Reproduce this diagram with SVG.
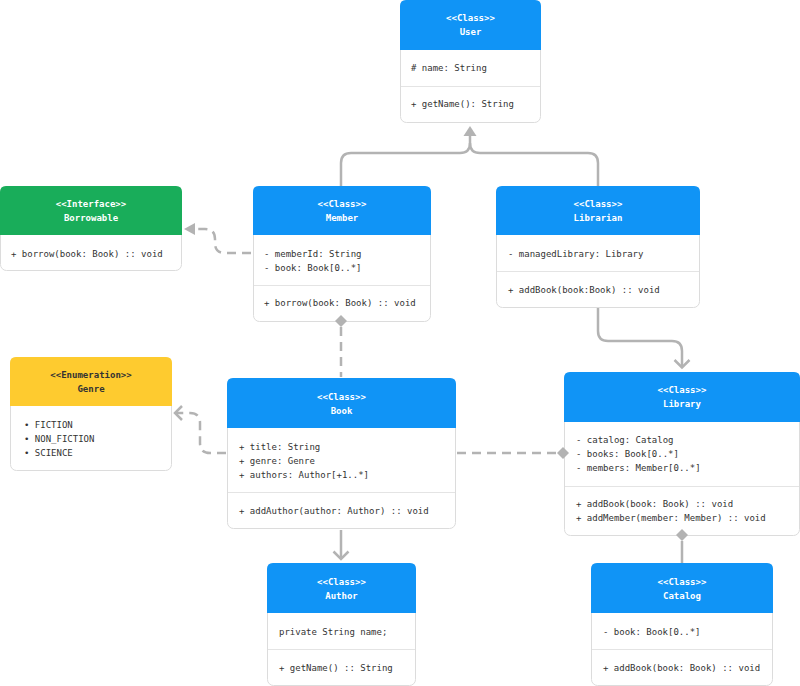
<svg xmlns="http://www.w3.org/2000/svg" width="800" height="686" viewBox="0 0 800 686">
<style>
.box{fill:#ffffff;stroke:#dcdcdc;stroke-width:1}
.div{stroke:#e4e4e4;stroke-width:1}
.blue{fill:#1094f6}
.green{fill:#19ad5a}
.yellow{fill:#fecb2f}
.hd{font-family:"DejaVu Sans Mono","Liberation Mono",monospace;font-size:9px;font-weight:bold;fill:#ffffff;text-anchor:middle}
.hdk{font-family:"DejaVu Sans Mono","Liberation Mono",monospace;font-size:9px;font-weight:bold;fill:#333333;text-anchor:middle}
.t{font-family:"DejaVu Sans Mono","Liberation Mono",monospace;font-size:9px;fill:#333333}
.ln{fill:none;stroke:#b3b3b3;stroke-width:2.5}
.dash{fill:none;stroke:#b3b3b3;stroke-width:2.5;stroke-dasharray:9 6}
.fill{fill:#b3b3b3;stroke:none}
</style>
<rect width="800" height="686" fill="#ffffff"/>
<g id="User">
  <rect class="box" x="400.5" y="0.5" width="140" height="122" rx="6"/>
  <path class="blue" d="M400,6 Q400,0 406,0 H535 Q541,0 541,6 V50 H400 Z"/>
  <text class="hd" x="470.5" y="21">&lt;&lt;Class&gt;&gt;</text>
  <text class="hd" x="470.5" y="35">User</text>
  <text class="t" x="411" y="71"># name: String</text>
  <line class="div" x1="401" y1="86.5" x2="540" y2="86.5"/>
  <text class="t" x="411" y="107">+ getName(): String</text>
</g>
<g id="Borrowable">
  <rect class="box" x="0.5" y="186.5" width="181" height="84" rx="6"/>
  <path class="green" d="M0,192 Q0,186 6,186 H176 Q182,186 182,192 V235 H0 Z"/>
  <text class="hd" x="91" y="207">&lt;&lt;Interface&gt;&gt;</text>
  <text class="hd" x="91" y="221">Borrowable</text>
  <text class="t" x="11" y="257">+ borrow(book: Book) :: void</text>
</g>
<g id="Member">
  <rect class="box" x="253.5" y="186.5" width="177" height="135" rx="6"/>
  <path class="blue" d="M253,192 Q253,186 259,186 H425 Q431,186 431,192 V235 H253 Z"/>
  <text class="hd" x="342" y="207">&lt;&lt;Class&gt;&gt;</text>
  <text class="hd" x="342" y="221">Member</text>
  <text class="t" x="264" y="257">- memberId: String</text>
  <text class="t" x="264" y="271">- book: Book[0..*]</text>
  <line class="div" x1="254" y1="285.5" x2="430" y2="285.5"/>
  <text class="t" x="264" y="306">+ borrow(book: Book) :: void</text>
</g>
<g id="Librarian">
  <rect class="box" x="496.5" y="186.5" width="203" height="121" rx="6"/>
  <path class="blue" d="M496,192 Q496,186 502,186 H694 Q700,186 700,192 V235 H496 Z"/>
  <text class="hd" x="598" y="207">&lt;&lt;Class&gt;&gt;</text>
  <text class="hd" x="598" y="221">Librarian</text>
  <text class="t" x="508" y="257">- managedLibrary: Library</text>
  <line class="div" x1="497" y1="271.5" x2="699" y2="271.5"/>
  <text class="t" x="508" y="293">+ addBook(book:Book) :: void</text>
</g>
<g id="Genre">
  <rect class="box" x="10.5" y="357.5" width="161" height="113" rx="6"/>
  <path class="yellow" d="M10,363 Q10,357 16,357 H166 Q172,357 172,363 V406 H10 Z"/>
  <text class="hdk" x="91" y="378">&lt;&lt;Enumeration&gt;&gt;</text>
  <text class="hdk" x="91" y="392">Genre</text>
  <text class="t" x="24" y="428">• FICTION</text>
  <text class="t" x="24" y="442">• NON_FICTION</text>
  <text class="t" x="24" y="456">• SCIENCE</text>
</g>
<g id="Book">
  <rect class="box" x="227.5" y="378.5" width="228" height="150" rx="6"/>
  <path class="blue" d="M227,384 Q227,378 233,378 H450 Q456,378 456,384 V428 H227 Z"/>
  <text class="hd" x="341.5" y="400">&lt;&lt;Class&gt;&gt;</text>
  <text class="hd" x="341.5" y="414">Book</text>
  <text class="t" x="239" y="450">+ title: String</text>
  <text class="t" x="239" y="464">+ genre: Genre</text>
  <text class="t" x="239" y="478">+ authors: Author[+1..*]</text>
  <line class="div" x1="228" y1="492.5" x2="455" y2="492.5"/>
  <text class="t" x="239" y="514">+ addAuthor(author: Author) :: void</text>
</g>
<g id="Library">
  <rect class="box" x="564.5" y="372.5" width="235" height="163" rx="6"/>
  <path class="blue" d="M564,378 Q564,372 570,372 H794 Q800,372 800,378 V422 H564 Z"/>
  <text class="hd" x="682" y="393">&lt;&lt;Class&gt;&gt;</text>
  <text class="hd" x="682" y="407">Library</text>
  <text class="t" x="576" y="443">- catalog: Catalog</text>
  <text class="t" x="576" y="457">- books: Book[0..*]</text>
  <text class="t" x="576" y="471">- members: Member[0..*]</text>
  <line class="div" x1="565" y1="486.5" x2="799" y2="486.5"/>
  <text class="t" x="576" y="507">+ addBook(book: Book) :: void</text>
  <text class="t" x="576" y="521">+ addMember(member: Member) :: void</text>
</g>
<g id="Author">
  <rect class="box" x="267.5" y="563.5" width="148" height="122" rx="6"/>
  <path class="blue" d="M267,569 Q267,563 273,563 H410 Q416,563 416,569 V613 H267 Z"/>
  <text class="hd" x="341.5" y="585">&lt;&lt;Class&gt;&gt;</text>
  <text class="hd" x="341.5" y="599">Author</text>
  <text class="t" x="279" y="635">private String name;</text>
  <line class="div" x1="268" y1="649.5" x2="415" y2="649.5"/>
  <text class="t" x="279" y="671">+ getName() :: String</text>
</g>
<g id="Catalog">
  <rect class="box" x="591.5" y="563.5" width="181" height="122" rx="6"/>
  <path class="blue" d="M591,569 Q591,563 597,563 H767 Q773,563 773,569 V613 H591 Z"/>
  <text class="hd" x="682" y="585">&lt;&lt;Class&gt;&gt;</text>
  <text class="hd" x="682" y="599">Catalog</text>
  <text class="t" x="603" y="635">- book: Book[0..*]</text>
  <line class="div" x1="592" y1="649.5" x2="772" y2="649.5"/>
  <text class="t" x="603" y="671">+ addBook(book: Book) :: void</text>
</g>
<g id="connectors">
  <path class="ln" d="M341,186 V163 Q341,153 351,153 H460 Q470,153 470,143 V134"/>
  <path class="ln" d="M598,186 V163 Q598,153 588,153 H480 Q470,153 470,143"/>
  <polygon class="fill" points="470,126 476.5,136 463.5,136"/>
  <path class="dash" d="M251,253 H225 Q215,253 215,243 V239 Q215,229 205,229 H193"/>
  <polygon class="fill" points="184,229 195,223 195,235"/>
  <polygon class="fill" points="341,315 347,321 341,327 335,321"/>
  <path class="dash" d="M341,327 V377"/>
  <path class="ln" d="M598,308 V331 Q598,341 608,341 H672 Q682,341 682,351 V367"/>
  <polyline class="ln" points="674.5,360 682,367.5 689.5,360"/>
  <path class="dash" d="M226,453 H210 Q200,453 200,443 V423 Q200,413 190,413 H176"/>
  <polyline class="ln" points="182,406 175,413 182,420"/>
  <path class="dash" d="M457,453 H557"/>
  <polygon class="fill" points="557,453 563,447 569,453 563,459"/>
  <path class="ln" d="M341,530 V559"/>
  <polyline class="ln" points="333.5,551.5 341,559 348.5,551.5"/>
  <polygon class="fill" points="682,529 688,535 682,541 676,535"/>
  <path class="ln" d="M682,541 V563"/>
</g>
</svg>
